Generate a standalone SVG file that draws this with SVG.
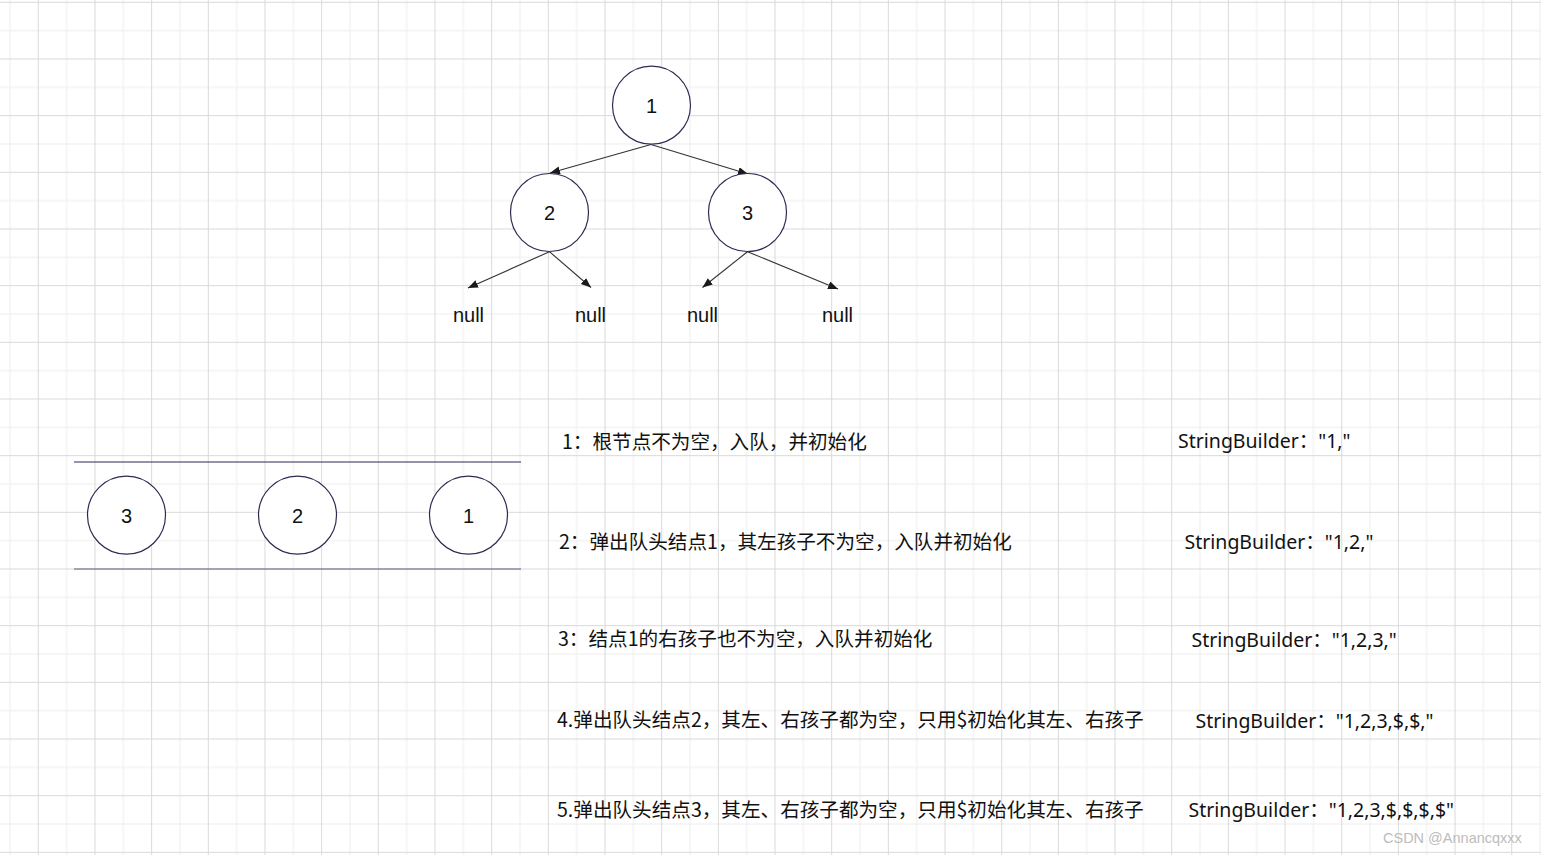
<svg xmlns="http://www.w3.org/2000/svg" width="1541" height="855" viewBox="0 0 1541 855">
<defs>
<pattern id="grid" patternUnits="userSpaceOnUse" x="37.8" y="1.8" width="56.67" height="56.67">
<rect x="28.33" y="0" width="1" height="56.67" fill="#eeeeee"/>
<rect x="0" y="28.33" width="56.67" height="1" fill="#eeeeee"/>
<rect x="0" y="0" width="1" height="56.67" fill="#d9d9d9"/>
<rect x="0" y="0" width="56.67" height="1" fill="#d9d9d9"/>
</pattern>
<marker id="arr" markerUnits="userSpaceOnUse" markerWidth="12" markerHeight="10" refX="10" refY="4" orient="auto">
<path d="M0,0 L10,4 L0,8 z" fill="#1a1a1a"/>
</marker>
</defs>
<style>
.node circle{fill:#ffffff;stroke:#2b2b52;stroke-width:1.2}
.lbl{font-family:"Liberation Sans",Arial,sans-serif;font-size:20px;fill:#111;text-anchor:middle}
.edge{stroke:#333;stroke-width:1.1;fill:none;marker-end:url(#arr)}
.cn{font-family:"Noto Sans CJK SC",sans-serif;font-size:19.6px;fill:#111}
.sb{font-family:"Noto Sans","Noto Sans CJK SC",sans-serif;font-size:19.5px;fill:#111}
.q{stroke:#2b2b52;stroke-width:1.2}
</style>
<rect width="1541" height="855" fill="#ffffff"/>
<rect width="1541" height="855" fill="url(#grid)"/>

<g id="connectors">
<line class="edge" x1="651" y1="144.5" x2="550" y2="173"/>
<line class="edge" x1="651" y1="144.5" x2="748" y2="174"/>
<line class="edge" x1="549.5" y1="251.7" x2="468" y2="288"/>
<line class="edge" x1="549.5" y1="251.7" x2="591" y2="287.5"/>
<line class="edge" x1="747.5" y1="251.7" x2="702.5" y2="287.5"/>
<line class="edge" x1="747.5" y1="251.7" x2="838" y2="289"/>
</g>

<g id="tree-node-1" class="node"><circle cx="651.5" cy="105.2" r="39"/><text class="lbl" x="651.5" y="112.5">1</text></g>
<g id="tree-node-2" class="node"><circle cx="549.5" cy="212.5" r="39"/><text class="lbl" x="549.5" y="219.8">2</text></g>
<g id="tree-node-3" class="node"><circle cx="747.5" cy="212.5" r="39"/><text class="lbl" x="747.5" y="219.8">3</text></g>

<g id="null-1"><text class="lbl" x="468.5" y="321.7">null</text></g>
<g id="null-2"><text class="lbl" x="590.5" y="321.7">null</text></g>
<g id="null-3"><text class="lbl" x="702.5" y="321.7">null</text></g>
<g id="null-4"><text class="lbl" x="837.5" y="321.7">null</text></g>

<g id="queue">
<line class="q" x1="74" y1="462" x2="521" y2="462"/>
<line class="q" x1="74" y1="569" x2="521" y2="569" stroke-opacity="0.75"/>
</g>
<g id="queue-node-3" class="node"><circle cx="126.5" cy="515.2" r="39"/><text class="lbl" x="126.5" y="522.5">3</text></g>
<g id="queue-node-2" class="node"><circle cx="297.5" cy="515.2" r="39"/><text class="lbl" x="297.5" y="522.5">2</text></g>
<g id="queue-node-1" class="node"><circle cx="468.5" cy="515.2" r="39"/><text class="lbl" x="468.5" y="522.5">1</text></g>

<g id="steps">
<text class="cn" x="562" y="448.5">1：根节点不为空，入队，并初始化</text>
<text class="cn" x="559" y="549">2：弹出队头结点1，其左孩子不为空，入队并初始化</text>
<text class="cn" x="558" y="645.5">3：结点1的右孩子也不为空，入队并初始化</text>
<text class="cn" x="557" y="726.5">4.弹出队头结点2，其左、右孩子都为空，只用$初始化其左、右孩子</text>
<text class="cn" x="557" y="816.5">5.弹出队头结点3，其左、右孩子都为空，只用$初始化其左、右孩子</text>
</g>
<g id="strings">
<text class="sb" x="1178" y="447.6">StringBuilder：&quot;1,&quot;</text>
<text class="sb" x="1184.5" y="548.6">StringBuilder：&quot;1,2,&quot;</text>
<text class="sb" x="1191.5" y="647.3">StringBuilder：&quot;1,2,3,&quot;</text>
<text class="sb" x="1195.5" y="727.6">StringBuilder：&quot;1,2,3,$,$,&quot;</text>
<text class="sb" x="1188.5" y="817">StringBuilder：&quot;1,2,3,$,$,$,$&quot;</text>
</g>
<text x="1383" y="843" font-family="Liberation Sans, Arial, sans-serif" font-size="14.5" fill="#bcbcbc">CSDN @Annancqxxx</text>
</svg>
